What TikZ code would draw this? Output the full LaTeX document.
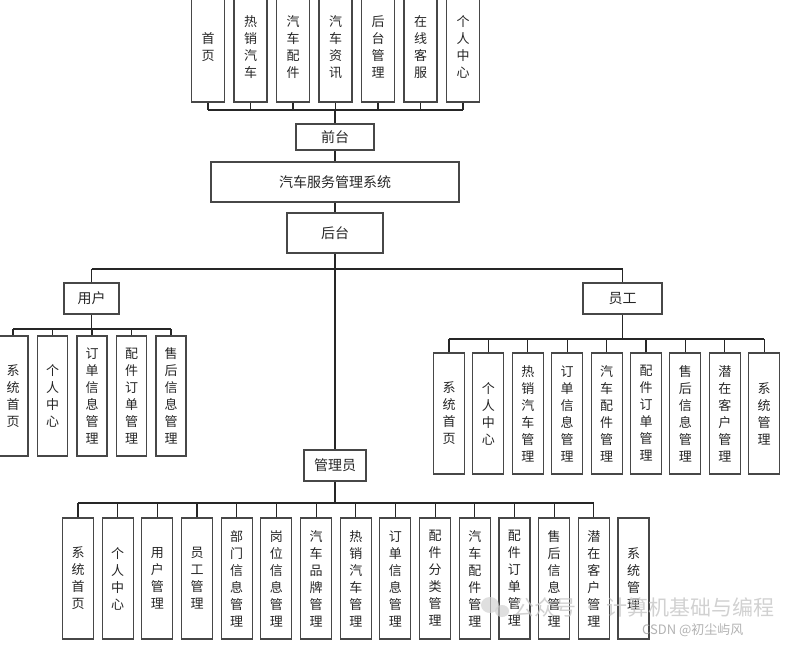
\documentclass[tikz,border=0pt]{standalone}
\usepackage{fontspec}
\newfontfamily\cjk{Noto Sans CJK SC}
\def\vstackA#1#2\vstackend{#1\ifx\relax#2\relax\else\\\vstackA#2\vstackend\fi}
\def\vs#1{\expandafter\vstackA#1\vstackend}
\begin{document}
\begin{tikzpicture}[x=1pt,y=-1pt,
  box/.style={draw=black!72, line width=1.1pt, fill=white, inner sep=0pt, align=center,
    font=\cjk\fontsize{13}{17}\selectfont, text=black!85},
  leaf/.style={box, minimum width=31pt, minimum height=121pt},
  topleaf/.style={box, minimum width=33pt, minimum height=110pt},
  mid/.style={box, font=\cjk\fontsize{14}{17}\selectfont},
  conn/.style={draw=black!85, line width=1.1pt},
  wm/.style={text=gray!45, opacity=0.8, inner sep=0pt, anchor=west}]
\useasboundingbox (0,0) rectangle (794,647);

% ---------- top row (front end) ----------
\foreach \lbl [count=\i from 0] in {首页,热销汽车,汽车配件,汽车资讯,后台管理,在线客服,个人中心}{
  \node[topleaf] (t\i) at ({208+42.5*\i},47) {\vs\lbl};
}
\node[mid, minimum width=78pt, minimum height=26pt] (qian) at (335,137) {前台};
\node[mid, minimum width=248pt, minimum height=40pt] (sys) at (335,182) {汽车服务管理系统};
\node[mid, minimum width=96pt, minimum height=40pt] (hou) at (335,233) {后台};

\coordinate (tb) at (335,110);
\draw[conn] (t0.south |- tb) -- (t6.south |- tb);
\foreach \i in {0,...,6}{ \draw[conn] (t\i.south) -- (t\i.south |- tb); }
\draw[conn, line width=1.6pt] (tb) -- (qian.north);
\draw[conn] (qian.south) -- (sys.north);
\draw[conn] (sys.south) -- (hou.north);

% ---------- second level ----------
\node[mid, minimum width=55pt, minimum height=31pt] (yh) at (91.5,298.5) {用户};
\node[mid, minimum width=79pt, minimum height=31pt] (yg) at (622.5,298.5) {员工};
\node[mid, minimum width=62pt, minimum height=31pt] (gl) at (335,465.5) {管理员};
\coordinate (hb) at (335,269);
\draw[conn, line width=1.6pt] (hou.south) -- (hb);
\draw[conn] (yh.north |- hb) -- (yg.north |- hb);
\draw[conn] (yh.north) -- (yh.north |- hb);
\draw[conn] (yg.north) -- (yg.north |- hb);
\draw[conn] (hb) -- (gl.north);

% ---------- user ----------
\foreach \lbl [count=\i from 0] in {系统首页,个人中心,订单信息管理,配件订单管理,售后信息管理}{
  \node[leaf, minimum width=30pt, minimum height=120pt] (u\i) at ({13+39.5*\i},396) {\vs\lbl};
}
\coordinate (ub) at (91.5,329);
\draw[conn, line width=1.6pt] (yh.south) -- (ub);
\draw[conn] (u0.north |- ub) -- (u4.north |- ub);
\foreach \i in {0,...,4}{ \draw[conn] (u\i.north) -- (u\i.north |- ub); }

% ---------- employee ----------
\foreach \lbl [count=\i from 0] in {系统首页,个人中心,热销汽车管理,订单信息管理,汽车配件管理,配件订单管理,售后信息管理,潜在客户管理,系统管理}{
  \node[leaf] (e\i) at ({449+39.4*\i},413.5) {\vs\lbl};
}
\coordinate (eb) at (622.5,339);
\draw[conn, line width=1.6pt] (yg.south) -- (eb);
\draw[conn] (e0.north |- eb) -- (e8.north |- eb);
\foreach \i in {0,...,8}{ \draw[conn] (e\i.north) -- (e\i.north |- eb); }

% ---------- administrator ----------
\foreach \lbl [count=\i from 0] in {系统首页,个人中心,用户管理,员工管理,部门信息管理,岗位信息管理,汽车品牌管理,热销汽车管理,订单信息管理,配件分类管理,汽车配件管理,配件订单管理,售后信息管理,潜在客户管理,系统管理}{
  \node[leaf] (a\i) at ({78+39.68*\i},578.5) {\vs\lbl};
}
\coordinate (ab) at (335,503);
\draw[conn] (gl.south) -- (ab);
\draw[conn] (a0.north |- ab) -- (a13.north |- ab);
\foreach \i in {0,...,13}{ \draw[conn] (a\i.north) -- (a\i.north |- ab); }

% ---------- watermark ----------
\fill[gray!35, opacity=0.7] (490,605) ellipse (9pt and 8pt);
\fill[gray!35, opacity=0.7] (502,611) ellipse (7pt and 6pt);
\node[wm, font=\cjk\fontsize{21}{24}\selectfont] (wm1) at (513,607) {公众号 · 计算机基础与编程};
\node[wm, font=\cjk\fontsize{13}{15}\selectfont, text=gray!75] (wm2) at (642,630) {CSDN @初尘屿风};
\end{tikzpicture}
\end{document}
